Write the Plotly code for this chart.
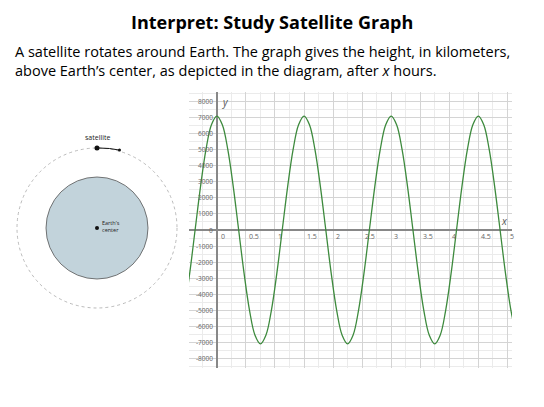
import plotly.graph_objects as go

# the page adds an 8px body margin, so the figure is drawn 8px in
OFF = 8
W, H = 544 - 2 * OFF, 407 - 2 * OFF

# curve values: one point every 0.09375 hours (km)
hours = [round(-0.5625 + 0.09375 * i, 5) for i in range(62)]
one_cycle = [-5020, -2720, 0, 2720, 5020, 6560, 7100, 6560, 5020, 2720, 0, -2720,
             -5020, -6560, -7100, -6560]
height = (one_cycle * 4)[:62]
x_ticks = [-0.5, 0.5, 1, 1.5, 2, 2.5, 3, 3.5, 4, 4.5, 5]
x_tick_text = ["5", "0.5", "1", "1.5", "2", "2.5", "3", "3.5", "4", "4.5", "5"]
y_ticks = list(range(-8000, 9000, 1000))


def px(x):
    return (x - OFF) / W


def py(y):
    return 1 - (y - OFF) / H


fig = go.Figure(go.Scatter(x=hours, y=height, mode="lines", line_shape="spline",
                           line=dict(color="#3d8a3d", width=1.3), hoverinfo="skip"))

anns = []
for t, s in zip(x_ticks, x_tick_text):
    anns.append(dict(x=t, y=0, xref="x", yref="y", text=s, showarrow=False, xanchor="left",
                     yanchor="top", xshift=1, font=dict(size=7, color="#666")))
anns.append(dict(x=0, y=0, xref="x", yref="y", text="0", showarrow=False, xanchor="left",
                 yanchor="top", xshift=2, font=dict(size=7, color="#666")))
for t in y_ticks:
    anns.append(dict(x=0, y=t, xref="x", yref="y", text=str(t), showarrow=False,
                     xanchor="right", yanchor="middle", xshift=-2, font=dict(size=6.5, color="#666")))
anns.append(dict(x=0, y=8000, xref="x", yref="y", text="<i>y</i>", showarrow=False,
                 xanchor="left", yanchor="middle", xshift=3, font=dict(size=10, color="#555")))
anns.append(dict(x=5, y=0, xref="x", yref="y", text="<i>x</i>", showarrow=False,
                 xanchor="center", yanchor="bottom", xshift=-3, font=dict(size=10, color="#555")))

# slide text
anns.append(dict(x=px(272), y=py(22), xref="paper", yref="paper", xanchor="center", yanchor="middle",
                 text="<b>Interpret: Study Satellite Graph</b>",
                 showarrow=False, font=dict(size=18, color="black", family="Open Sans")))
anns.append(dict(x=px(13), y=py(61), xref="paper", yref="paper", align="left", xanchor="left",
                 yanchor="middle",
                 text="A satellite rotates around Earth. The graph gives the height, in kilometers,<br>"
                      "above Earth’s center, as depicted in the diagram, after <i>x</i> hours.",
                 showarrow=False, font=dict(size=14.5, color="black", family="Open Sans")))
anns.append(dict(x=px(97), y=py(138), xref="paper", yref="paper", xanchor="center", yanchor="middle",
                 text="satellite", showarrow=False, font=dict(size=7, color="#222")))
anns.append(dict(x=px(100), y=py(226), xref="paper", yref="paper", text="Earth’s<br>center",
                 showarrow=False, xanchor="left", yanchor="middle", align="left",
                 font=dict(size=5.5, color="#222")))

cx, cy = 97, 228
shapes = [
    dict(type="circle", xref="paper", yref="paper", x0=px(cx - 80), x1=px(cx + 80),
         y0=py(cy + 80), y1=py(cy - 80), line=dict(color="#aaa", width=0.8, dash="dot")),
    dict(type="circle", xref="paper", yref="paper", x0=px(cx - 51), x1=px(cx + 51),
         y0=py(cy + 51), y1=py(cy - 51), fillcolor="#c2d3db", line=dict(color="#555", width=0.8)),
    dict(type="circle", xref="paper", yref="paper", x0=px(cx - 2), x1=px(cx + 2),
         y0=py(cy + 2), y1=py(cy - 2), fillcolor="#111", line=dict(width=0)),
    dict(type="circle", xref="paper", yref="paper", x0=px(cx - 2.5), x1=px(cx + 2.5),
         y0=py(cy - 80 + 2.5), y1=py(cy - 80 - 2.5), fillcolor="#111", line=dict(width=0)),
    dict(type="path", xref="paper", yref="paper",
         path=f"M {px(99)} {py(148)} Q {px(110)} {py(148)} {px(119)} {py(150)}",
         line=dict(color="#111", width=1)),
    dict(type="circle", xref="paper", yref="paper", x0=px(118), x1=px(121),
         y0=py(151.5), y1=py(148.5), fillcolor="#111", line=dict(width=0)),
]

fig.update_layout(
    width=W, height=H, margin=dict(l=0, r=0, t=0, b=0),
    paper_bgcolor="white", plot_bgcolor="white", showlegend=False,
    annotations=anns, shapes=shapes,
    xaxis=dict(domain=[px(189), px(512)], range=[-0.48, 5.08], showticklabels=False,
               tickvals=x_ticks + [0], gridcolor="#d4d4d4", gridwidth=1,
               minor=dict(dtick=0.25, showgrid=True, gridcolor="#ebebeb"),
               zeroline=True, zerolinecolor="#888", zerolinewidth=1.5, showline=False),
    yaxis=dict(domain=[py(368), py(92)], range=[-8600, 8600], showticklabels=False,
               dtick=1000, gridcolor="#d4d4d4",
               minor=dict(dtick=500, showgrid=True, gridcolor="#ebebeb"),
               zeroline=True, zerolinecolor="#888", zerolinewidth=1.5, showline=False),
)

fig.write_html("out.html")
